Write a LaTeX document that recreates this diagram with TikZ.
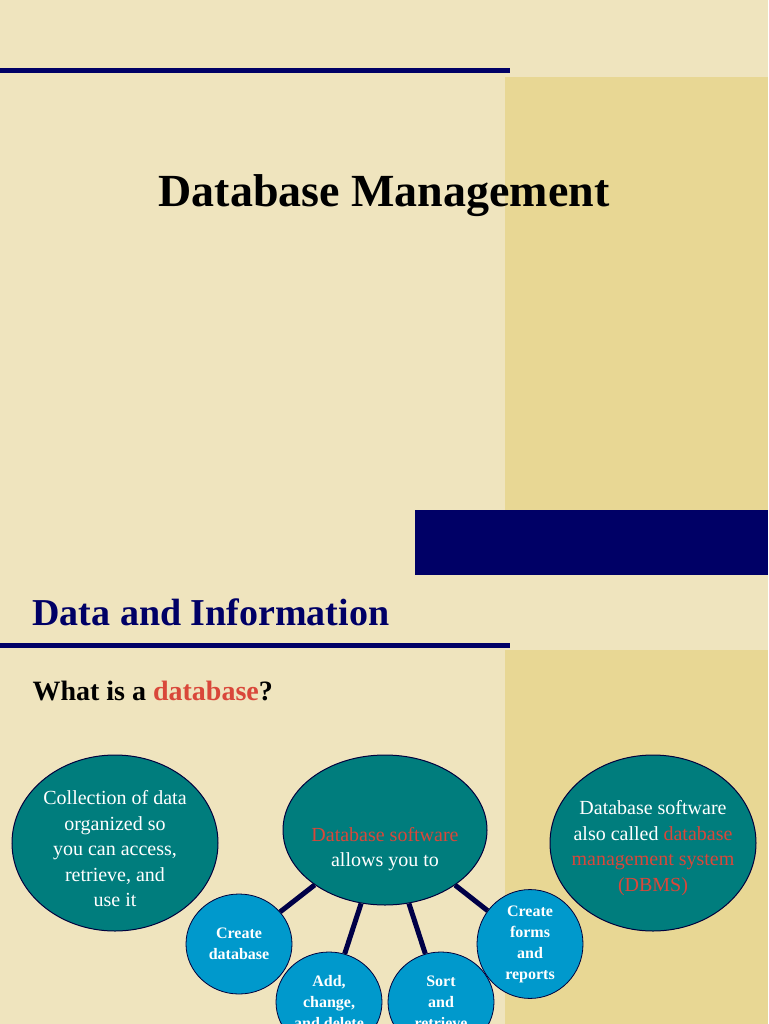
\documentclass[tikz,border=0pt]{standalone}
\usepackage{fontspec}
\setmainfont{Liberation Serif}
\usetikzlibrary{shapes.geometric}
\pgfdeclarelayer{back}
\pgfdeclarelayer{mid}
\pgfsetlayers{back,mid,main}
\definecolor{bgl}{HTML}{EFE4BE}
\definecolor{band}{HTML}{E8D794}
\definecolor{navy}{HTML}{000066}
\definecolor{teal2}{HTML}{007D7D}
\definecolor{sky}{HTML}{0099CC}
\definecolor{redt}{HTML}{D9473A}
\tikzset{
  big/.style={ellipse,fill=teal2,draw=navy!60!black,line width=1pt,minimum width=206pt,minimum height=176pt,align=center,inner sep=0pt},
  bigtext/.style={text=white,align=center,font=\fontsize{20}{25.5}\selectfont},
  small/.style={ellipse,fill=sky,draw=navy!60!black,line width=0.8pt,minimum width=106pt,minimum height=100pt,text=white,align=center,font=\bfseries\fontsize{16}{21}\selectfont,inner sep=0pt},
  link/.style={navy!70!black,line width=5pt}
}
\begin{document}
\begin{tikzpicture}[x=1pt,y=-1pt]
\useasboundingbox (0,0) rectangle (768,1024);
\clip (0,0) rectangle (768,1024);
\begin{pgfonlayer}{back}
\fill[bgl] (0,0) rectangle (768,1024);
\fill[band] (505,77) rectangle (768,510);
\fill[navy] (0,68) rectangle (510,73);
\fill[navy] (415,510) rectangle (768,575);
\fill[band] (505,650) rectangle (768,1024);
\fill[navy] (0,643) rectangle (510,648);
\end{pgfonlayer}
\node[font=\bfseries\fontsize{46}{52}\selectfont] (t1) at (384,196) {Database Management};
\node[font=\bfseries\fontsize{38}{44}\selectfont,text=navy,anchor=west] (t2) at (29,612) {Data and Information};
\node[font=\bfseries\fontsize{28}{32}\selectfont,anchor=west] (q) at (29,691) {What is a \textcolor{redt}{database}?};
\node[big] (L) at (115,843) {};
\node[bigtext] (Lt) at (115,849) {Collection of data\\organized so\\you can access,\\retrieve, and\\use it};
\node[big,minimum width=204pt,minimum height=150pt] (M) at (385,830) {};
\node[bigtext] (Mt) at (385,849) {\textcolor{redt}{Database software}\\allows you to};
\node[big] (R) at (653,843) {};
\node[bigtext] (Rt) at (653,848) {Database software\\also called \textcolor{redt}{database}\\\textcolor{redt}{management system}\\\textcolor{redt}{(DBMS)}};
\node[small] (s1) at (239,944) {Create\\database};
\node[small] (s2) at (329,1002) {Add,\\change,\\and delete};
\node[small] (s3) at (441,1002) {Sort\\and\\retrieve};
\node[small] (s4) at (530,944) {Create\\forms\\and\\reports};
\begin{pgfonlayer}{mid}
\draw[link] (M) -- (s1);
\draw[link] (M) -- (s2);
\draw[link] (M) -- (s3);
\draw[link] (M) -- (s4);
\end{pgfonlayer}
\end{tikzpicture}
\end{document}
